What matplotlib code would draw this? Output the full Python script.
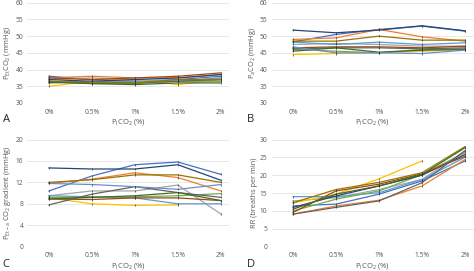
import numpy as np
import matplotlib.pyplot as plt

plt.rcParams['font.family'] = ['Open Sans', 'DejaVu Sans']
plt.rcParams['mathtext.default'] = 'regular'

categorias = ['0%', '0.5%', '1%', '1.5%', '2%']

# Paleta estilo Excel
cores = ['#4472C4', '#ED7D31', '#A5A5A5', '#FFC000', '#5B9BD5', '#70AD47',
         '#264478', '#9E480E', '#636363', '#997300', '#43682B', '#698ED0']

# Painel A - PETCO2 (mmHg)
petco2 = [
    [38.0, 37.0, 36.5, 37.0, 38.0],
    [37.5, 38.0, 37.5, 37.5, 38.5],
    [37.0, 37.5, 37.0, 36.5, 37.5],
    [35.0, 36.5, 37.0, 35.5, 37.0],
    [36.5, 36.0, 36.5, 36.5, 37.5],
    [36.5, 35.8, 35.8, 36.5, 36.5],
    [37.0, 36.5, 37.0, 37.5, 38.5],
    [37.5, 37.0, 37.5, 38.0, 39.0],
    [36.0, 36.5, 36.0, 36.5, 37.0],
    [36.5, 36.0, 36.0, 37.0, 37.0],
    [36.2, 35.8, 35.5, 36.0, 36.0],
]

# Painel B - PaCO2 (mmHg)
paco2 = [
    [48.3, 50.5, 52.0, 53.0, 51.5],
    [49.0, 49.5, 52.0, 49.8, 48.5],
    [47.5, 47.8, 47.5, 47.0, 47.0],
    [44.5, 44.8, 45.0, 45.5, 46.0],
    [48.2, 47.5, 48.2, 47.5, 48.0],
    [46.0, 45.5, 45.0, 46.0, 46.2],
    [51.8, 51.0, 51.8, 53.1, 51.6],
    [46.5, 46.8, 46.8, 46.5, 47.0],
    [46.2, 46.5, 46.5, 46.2, 46.5],
    [48.5, 48.5, 50.0, 48.8, 48.8],
    [45.5, 46.5, 45.2, 45.8, 46.0],
    [46.8, 45.0, 45.0, 44.8, 45.8],
]

# Painel C - gradiente PEt-a CO2 (mmHg)
gradiente = [
    [10.4, 13.2, 15.3, 15.8, 13.5],
    [11.8, 12.6, 13.8, 12.9, 10.4],
    [9.5, 10.4, 10.4, 11.5, 6.1],
    [9.1, 8.0, 7.7, 7.8, np.nan],
    [9.5, 9.3, 9.1, 8.0, 8.0],
    [9.2, 9.2, 9.3, 9.5, 9.9],
    [14.7, 14.5, 14.5, 15.3, 12.4],
    [8.9, 8.8, 9.1, 9.1, 8.6],
    [7.8, 9.8, 11.2, 10.1, 9.2],
    [12.0, 12.5, 13.4, 13.4, 12.0],
    [8.9, 9.2, 9.5, 10.1, 8.6],
    [11.8, 11.6, 11.2, 10.7, 11.6],
]

# Painel D - frequência respiratória
fr = [
    [11.4, 11.9, 14.7, 18.4, 24.0],
    [9.1, 11.4, 13.0, 17.0, 24.4],
    [12.8, 13.7, 16.0, 18.8, 26.7],
    [12.2, 14.7, 19.0, 24.0, np.nan],
    [14.0, 14.0, 15.1, 18.8, 25.0],
    [10.0, 13.3, 15.6, 20.2, 26.3],
    [11.0, 14.2, 17.0, 20.0, 25.8],
    [9.6, 15.6, 17.5, 20.4, 25.3],
    [9.1, 11.0, 12.8, 17.9, 26.9],
    [12.3, 16.0, 18.0, 20.7, 28.0],
    [10.5, 14.7, 17.0, 20.2, 27.7],
]

paineis = [
    (petco2, (30, 60), np.arange(30, 61, 5), r'P$_{Et}$CO$_2$ (mmHg)', 'A',
     [0.058, 0.62, 0.426, 0.37], (0.006, 0.55)),
    (paco2, (30, 60), np.arange(30, 61, 5), r'P$_a$CO$_2$ (mmHg)', 'B',
     [0.573, 0.62, 0.426, 0.37], (0.52, 0.55)),
    (gradiente, (0, 20), np.arange(0, 21, 4), r'P$_{Et-a}$ CO$_2$ gradient (mmHg)', 'C',
     [0.058, 0.09, 0.426, 0.395], (0.006, 0.015)),
    (fr, (0, 30), np.arange(0, 31, 5), 'RR (breaths per min)', 'D',
     [0.573, 0.09, 0.426, 0.395], (0.52, 0.015)),
]

fig = plt.figure(figsize=(4.74, 2.71), dpi=100)
x = np.arange(len(categorias))

for dados, lim, ticks, rotulo, letra, pos, pos_letra in paineis:
    ax = fig.add_axes(pos)
    for i, serie in enumerate(dados):
        ax.plot(x, serie, color=cores[i % len(cores)], lw=0.9, zorder=2)
        ax.plot(x, serie, ls='none', marker='|', color='#333333', ms=2, mew=0.5, zorder=3)
    ax.set_xlim(-0.5, 4.2)
    ax.set_ylim(*lim)
    ax.set_yticks(ticks)
    ax.set_xticks(x)
    ax.set_xticklabels(categorias)
    ax.grid(axis='y', color='#e4e4e4', lw=0.6)
    ax.set_axisbelow(True)
    for s in ax.spines.values():
        s.set_visible(False)
    ax.tick_params(axis='x', length=0, labelsize=4.8, labelcolor='#595959', pad=4)
    ax.tick_params(axis='y', length=0, labelsize=4.8, labelcolor='#595959', pad=3)
    ax.set_ylabel(rotulo, fontsize=5.3, color='#595959', labelpad=1.5)
    ax.set_xlabel(r'P$_I$CO$_2$ (%)', fontsize=5.5, color='#595959', labelpad=1)
    fig.text(pos_letra[0], pos_letra[1], letra, fontsize=8, color='#222222')

fig.savefig('out.png', dpi=100)
